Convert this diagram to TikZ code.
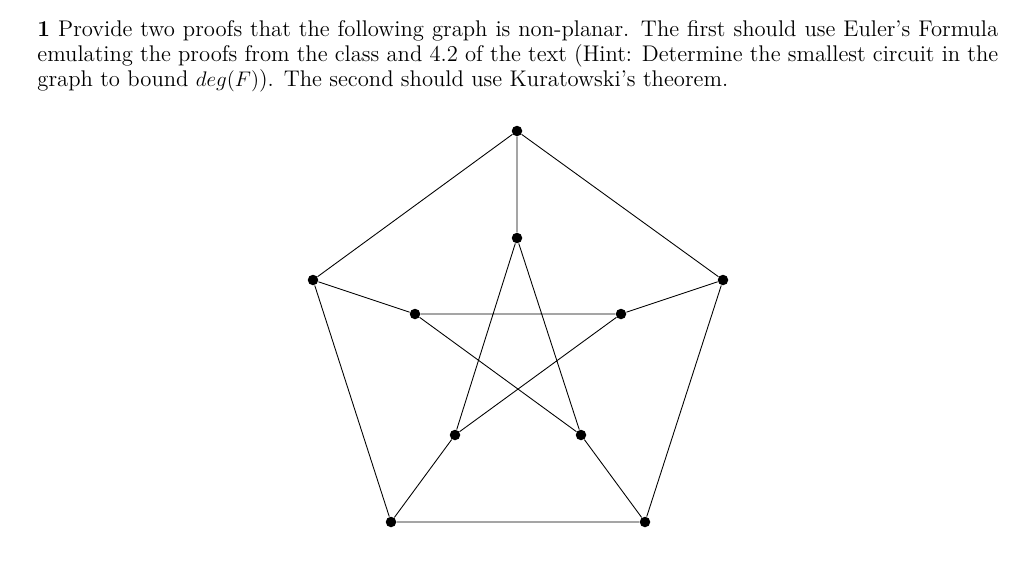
\documentclass[tikz,border=0pt]{standalone}
\begin{document}
\begin{tikzpicture}[x=0.02cm,y=-0.02cm,line width=0.5pt,v/.style={circle,fill=black,inner sep=0pt,minimum size=0.21cm}]
\useasboundingbox (0,0) rectangle (1024,566);
\node[anchor=north west,inner sep=0pt,text width=19.22cm,align=justify,font=\fontsize{12.9}{14.2}\selectfont] (t) at (37,20) {\textbf{1} Provide two proofs that the following graph is non-planar. The first should use Euler's Formula\linebreak emulating the proofs from the class and 4.2 of the text (Hint: Determine the smallest circuit in the\linebreak graph to bound $deg(F)$). The second should use Kuratowski's theorem.};
\node[v] (o1) at (517,131) {};
\node[v] (o2) at (723,280) {};
\node[v] (o3) at (645,522) {};
\node[v] (o4) at (391,522) {};
\node[v] (o5) at (313,280) {};
\node[v] (i1) at (517,238) {};
\node[v] (i2) at (621,314) {};
\node[v] (i3) at (581,435) {};
\node[v] (i4) at (455,435) {};
\node[v] (i5) at (415,314) {};
\draw (o1)--(o2)--(o3)--(o4)--(o5)--(o1);
\draw (o1)--(i1) (o2)--(i2) (o3)--(i3) (o4)--(i4) (o5)--(i5);
\draw (i1)--(i3)--(i5)--(i2)--(i4)--(i1);
\end{tikzpicture}
\end{document}
